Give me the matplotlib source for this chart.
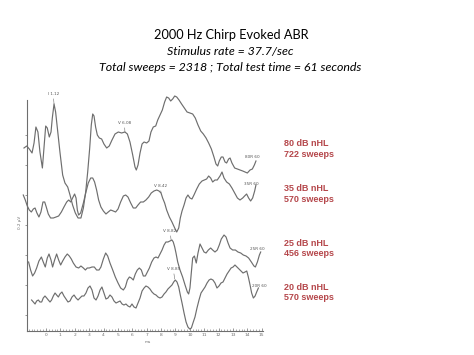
import matplotlib
matplotlib.use("Agg")
import matplotlib.pyplot as plt
from matplotlib.ticker import MultipleLocator
import numpy as np

# ---------------- data (time in ms, amplitude in uV) -------------
t80 = [-1.53,-1.34,-1.16,-0.97,-0.83,-0.70,-0.56,-0.42,-0.25,-0.14,-0.02,0.09,0.23,0.35,0.44,0.56,
       0.67,0.79,0.97,1.16,1.32,1.51,1.67,1.85,2.04,2.23,2.43,2.60,2.76,2.90,3.04,3.15,3.25,3.34,
       3.45,3.57,3.71,3.87,4.03,4.22,4.40,4.59,4.80,5.03,5.26,5.49,5.66,5.84,6.03,6.19,6.28,6.40,
       6.54,6.68,6.82,7.00,7.16,7.30,7.46,7.63,7.77,7.93,8.09,8.25,8.39,8.53,8.67,8.81,8.95,9.09,
       9.25,9.43,9.62,9.81,10.01,10.20,10.38,10.57,10.76,10.94,11.13,11.31,11.50,11.68,11.82,11.94,
       12.05,12.19,12.31,12.45,12.56,12.70,12.80,12.93,13.12,13.31,13.49,13.68,13.84,14.00,14.19,
       14.35,14.49,14.60]
v80 = [1.85,1.87,1.84,1.80,1.90,2.06,2.01,1.81,1.65,1.85,2.07,2.05,1.96,2.01,2.15,2.29,
       2.21,2.05,1.81,1.58,1.50,1.46,1.38,1.28,1.20,1.15,1.15,1.25,1.41,1.61,1.85,2.08,2.19,2.17,
       2.06,1.98,1.95,1.94,1.89,1.85,1.87,1.93,1.99,2.01,2.00,2.01,1.99,1.91,1.78,1.66,1.63,1.68,
       1.80,1.89,1.91,1.90,1.92,2.01,2.06,2.07,2.13,2.18,2.23,2.31,2.36,2.35,2.32,2.34,2.37,2.36,
       2.33,2.29,2.25,2.21,2.20,2.19,2.15,2.08,2.02,1.99,1.95,1.90,1.84,1.76,1.69,1.67,
       1.72,1.76,1.76,1.71,1.70,1.74,1.75,1.70,1.65,1.64,1.63,1.62,1.61,1.60,1.63,
       1.64,1.68,1.72]

t35 = [-1.58,-1.44,-1.30,-1.16,-1.02,-0.88,-0.76,-0.63,-0.49,-0.35,-0.21,-0.09,0.02,0.16,0.32,0.51,
       0.70,0.88,1.07,1.25,1.44,1.58,1.72,1.85,1.99,2.09,2.18,2.27,2.41,2.60,2.78,2.94,3.11,3.25,
       3.38,3.52,3.66,3.82,3.99,4.17,4.33,4.50,4.68,4.84,5.01,5.19,5.38,5.54,5.70,5.89,6.07,6.24,
       6.40,6.58,6.77,6.95,7.14,7.32,7.51,7.70,7.86,8.00,8.11,8.25,8.39,8.58,8.76,8.95,9.09,9.23,
       9.34,9.46,9.60,9.74,9.87,10.01,10.15,10.29,10.48,10.66,10.85,11.01,11.17,11.31,11.45,11.59,
       11.75,11.91,12.10,12.24,12.38,12.56,12.75,12.93,13.12,13.31,13.49,13.68,13.81,13.95,14.09,
       14.23,14.37,14.51,14.60]
v35 = [1.38,1.33,1.27,1.23,1.21,1.24,1.25,1.20,1.16,1.21,1.31,1.31,1.26,1.19,1.15,1.15,
       1.16,1.17,1.21,1.26,1.31,1.33,1.31,1.35,1.39,1.35,1.23,1.18,1.20,1.30,1.41,1.50,1.55,1.55,
       1.51,1.43,1.33,1.26,1.22,1.19,1.21,1.23,1.22,1.21,1.24,1.31,1.37,1.38,1.36,1.30,1.25,1.25,
       1.28,1.31,1.31,1.33,1.36,1.40,1.42,1.43,1.42,1.40,1.35,1.30,1.23,1.16,1.11,1.05,1.01,1.05,
       1.15,1.22,1.28,1.35,1.38,1.35,1.34,1.38,1.44,1.49,1.52,1.53,1.54,1.57,1.55,1.51,
       1.53,1.53,1.57,1.61,1.55,1.51,1.49,1.45,1.40,1.35,1.33,1.35,1.37,1.39,1.35,
       1.32,1.35,1.42,1.48]

t25 = [-1.21,-1.07,-0.93,-0.79,-0.65,-0.49,-0.32,-0.19,-0.05,0.09,0.21,0.35,0.46,0.60,0.74,0.88,
       1.02,1.16,1.32,1.48,1.62,1.76,1.90,2.09,2.27,2.43,2.60,2.74,2.87,3.01,3.20,3.36,3.52,3.69,
       3.82,3.99,4.15,4.29,4.45,4.64,4.82,5.01,5.19,5.38,5.52,5.66,5.80,5.93,6.07,6.21,6.35,6.49,
       6.63,6.77,6.91,7.05,7.19,7.35,7.51,7.65,7.79,7.93,8.07,8.21,8.34,8.48,8.62,8.76,8.85,8.95,
       9.04,9.16,9.32,9.50,9.67,9.83,9.92,10.01,10.11,10.20,10.32,10.45,10.57,10.71,10.85,10.99,
       11.13,11.29,11.45,11.59,11.75,11.91,12.05,12.19,12.38,12.52,12.66,12.80,12.98,13.17,13.35,
       13.54,13.72,13.91,14.09,14.28,14.46,14.56,14.70,14.84,14.93]
v25 = [0.71,0.63,0.57,0.60,0.65,0.72,0.76,0.71,0.66,0.75,0.79,0.73,0.66,0.73,0.79,0.73,
       0.68,0.72,0.76,0.79,0.77,0.74,0.70,0.66,0.65,0.67,0.65,0.63,0.65,0.65,0.66,0.66,0.63,0.63,
       0.66,0.74,0.80,0.77,0.70,0.63,0.56,0.50,0.45,0.43,0.46,0.53,0.56,0.55,0.53,0.59,0.63,0.65,
       0.63,0.57,0.57,0.61,0.65,0.71,0.75,0.76,0.75,0.79,0.83,0.88,0.91,0.91,0.92,0.93,0.91,0.86,
       0.80,0.71,0.63,0.56,0.48,0.41,0.39,0.45,0.61,0.75,0.77,0.70,0.80,0.89,0.85,0.81,
       0.80,0.83,0.85,0.83,0.81,0.83,0.88,0.94,0.98,0.96,0.90,0.85,0.83,0.83,0.81,
       0.80,0.78,0.77,0.75,0.71,0.67,0.66,0.71,0.78,0.81]

t20 = [-1.00,-0.88,-0.76,-0.65,-0.53,-0.42,-0.30,-0.19,-0.07,0.05,0.16,0.28,0.39,0.51,0.63,0.74,
       0.86,0.97,1.11,1.25,1.39,1.53,1.67,1.81,1.95,2.09,2.23,2.36,2.50,2.64,2.78,2.92,3.06,3.20,
       3.34,3.48,3.62,3.76,3.89,4.03,4.17,4.31,4.45,4.59,4.73,4.87,5.01,5.15,5.29,5.42,5.56,5.70,
       5.84,5.98,6.12,6.26,6.40,6.54,6.68,6.82,6.95,7.09,7.23,7.37,7.51,7.65,7.79,7.93,8.07,8.21,
       8.34,8.48,8.62,8.76,8.88,8.99,9.11,9.23,9.34,9.46,9.60,9.74,9.87,9.99,10.11,10.22,10.36,
       10.50,10.64,10.78,10.92,11.06,11.20,11.34,11.47,11.61,11.75,11.89,12.03,12.17,12.31,12.45,
       12.59,12.73,12.87,13.01,13.14,13.28,13.42,13.56,13.70,13.84,13.96,14.07,14.19,14.30,14.42,
       14.54,14.65,14.77]
v20 = [0.33,0.31,0.29,0.32,0.33,0.31,0.31,0.35,0.37,0.35,0.33,0.31,0.33,0.37,0.40,0.38,
       0.36,0.39,0.41,0.37,0.34,0.31,0.32,0.36,0.38,0.35,0.33,0.35,0.37,0.37,0.40,0.45,0.47,0.43,
       0.35,0.33,0.37,0.43,0.46,0.40,0.34,0.35,0.38,0.36,0.32,0.30,0.31,0.32,0.29,0.28,0.29,0.27,
       0.26,0.29,0.26,0.25,0.30,0.35,0.42,0.45,0.47,0.46,0.44,0.41,0.39,0.38,0.36,0.35,0.36,0.39,
       0.41,0.44,0.46,0.48,0.51,0.53,0.51,0.46,0.38,0.30,0.20,0.11,0.06,0.04,0.05,0.10,0.16,
       0.25,0.33,0.40,0.43,0.46,0.50,0.53,0.54,0.53,0.50,0.45,0.47,0.50,0.51,0.55,
       0.59,0.62,0.65,0.66,0.68,0.66,0.64,0.62,0.60,0.61,0.62,0.56,0.48,0.40,0.35,
       0.37,0.41,0.45]

x_tick_labels = [str(i) for i in range(16)]
peak_labels = ["I 1.12", "V 6.08", "V 8.42", "V 8.82", "V 8.85"]
end_labels = ["80R 60", "35R 60", "25R 60", "20R 60"]
level_labels = ["80 dB nHL", "35 dB nHL", "25 dB nHL", "20 dB nHL"]
sweep_labels = ["722 sweeps", "570 sweeps", "456 sweeps", "570 sweeps"]
title = "2000 Hz Chirp Evoked ABR"
sub1 = "Stimulus rate = 37.7/sec"
sub2 = "Total sweeps = 2318 ; Total test time = 61 seconds"

# ---------------- figure ----------------
W, H = 474, 355
fig = plt.figure(figsize=(W / 100, H / 100), dpi=100)
fig.patch.set_facecolor("white")

ink = "#6e6e6e"
ax = fig.add_axes([27 / W, (H - 331) / H, 236 / W, 231 / H])
ax.set_xlim(-1.32, 15.09)
ax.set_ylim(0.02, 2.33)
for s in ("top", "right"):
    ax.spines[s].set_visible(False)
for s in ("left", "bottom"):
    ax.spines[s].set_color(ink)
    ax.spines[s].set_linewidth(0.8)

traces = [(t80, v80), (t35, v35), (t25, v25), (t20, v20)]
for t, v in traces:
    ax.plot(t, v, color=ink, lw=0.85, clip_on=False, solid_joinstyle="round")

ax.set_xticks(range(16))
ax.set_xticklabels(x_tick_labels)
ax.xaxis.set_minor_locator(MultipleLocator(0.2))
ax.tick_params(axis="x", which="major", direction="in", length=2.5, width=0.5,
               colors=ink, labelsize=3.2, pad=1.2)
ax.tick_params(axis="x", which="minor", direction="in", length=1.5, width=0.4, color=ink)
ax.set_yticks(np.arange(0.18, 2.1, 0.3))
ax.set_yticklabels([])
ax.tick_params(axis="y", direction="out", length=1.5, width=0.5, color=ink)
ax.set_xlabel("ms", fontsize=3, color=ink)
ax.xaxis.set_label_coords(0.511, -0.041)
ax.set_ylabel("0.2 \u00b5V", fontsize=3, color=ink)
ax.yaxis.set_label_coords(-0.023, 0.472)

# peak markers: (label position) -> (point on trace)
peak_pos = [((0.50, 2.37), (0.56, 2.29)),
            ((5.45, 2.08), (5.49, 2.01)),
            ((7.95, 1.45), (8.00, 1.40)),
            ((8.62, 1.00), (8.70, 0.93)),
            ((8.85, 0.62), (8.95, 0.54))]
for lab, (xt, xp) in zip(peak_labels, peak_pos):
    ax.annotate(lab, xy=xp, xytext=xt, fontsize=3, color="#555555", ha="center",
                va="bottom", annotation_clip=False,
                arrowprops=dict(arrowstyle="-", lw=0.4, color=ink, shrinkA=0, shrinkB=0))

end_pos = [(14.37, 1.76), (14.30, 1.49), (14.70, 0.84), (14.85, 0.47)]
for lab, (x, y) in zip(end_labels, end_pos):
    ax.text(x, y, lab, fontsize=3, color="#555555", ha="center", va="center", clip_on=False)

# ---------------- titles ----------------
fig.text(231 / W, 1 - 35 / H, title, ha="center", va="center", fontsize=9.2,
         family="Lato", color="black")
fig.text(230 / W, 1 - 52 / H, sub1, ha="center", va="center", fontsize=8.9,
         family="Lato", style="italic", color="black")
fig.text(230 / W, 1 - 67.5 / H, sub2, ha="center", va="center", fontsize=8.9,
         family="Lato", style="italic", color="black")

# ---------------- right-hand legend text ----------------
red = "#B5474B"
lvl_y = [144, 188.5, 243, 287]
swp_y = [154.7, 199.5, 254, 298]
for lab, y in zip(level_labels, lvl_y):
    fig.text(284 / W, 1 - y / H, lab, ha="left", va="center", fontsize=6.5,
             family="Liberation Sans", weight="bold", color=red)
for lab, y in zip(sweep_labels, swp_y):
    fig.text(284 / W, 1 - y / H, lab, ha="left", va="center", fontsize=6.5,
             family="Liberation Sans", weight="bold", color=red)

fig.savefig("out.png", dpi=100)
